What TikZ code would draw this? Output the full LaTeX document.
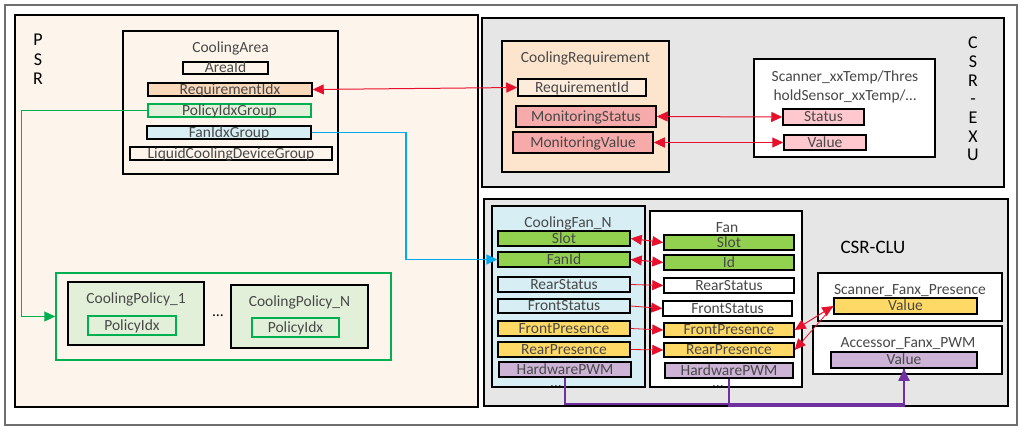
\documentclass[tikz,border=0pt]{standalone}
\usepackage{fontspec}
\setmainfont{Carlito}
\usetikzlibrary{arrows.meta}
\definecolor{cream}{RGB}{253,245,236}
\definecolor{panelgray}{RGB}{230,230,230}
\definecolor{framegray}{RGB}{110,110,110}
\definecolor{peach}{RGB}{252,228,205}
\definecolor{peachdark}{RGB}{250,216,186}
\definecolor{peachlight}{RGB}{253,236,220}
\definecolor{pinkdark}{RGB}{247,170,170}
\definecolor{pinklight}{RGB}{255,199,206}
\definecolor{fieldgreen}{RGB}{146,208,80}
\definecolor{linegreen}{RGB}{0,176,80}
\definecolor{lightgreen}{RGB}{226,240,217}
\definecolor{lightblue}{RGB}{214,238,244}
\definecolor{fieldyellow}{RGB}{255,217,102}
\definecolor{lavender}{RGB}{205,180,215}
\definecolor{linepurple}{RGB}{112,48,160}
\definecolor{arrred}{RGB}{232,17,45}
\definecolor{lineblue}{RGB}{0,170,235}
\definecolor{txtgray}{RGB}{72,72,72}
\newcommand\fldfont{\fontsize{15.5}{18}\selectfont}
\newcommand\bigletters{\fontsize{18}{20}\selectfont}
\begin{document}
\begin{tikzpicture}[x=1pt,y=-1pt,
  fld/.style={draw=black,line width=1.5pt,inner sep=0pt,text height=10pt,text depth=0pt,text=txtgray,font=\fldfont},
  ttl/.style={inner sep=0pt,text height=10pt,text depth=0pt,text=txtgray,font=\fldfont},
  cont/.style={draw=black,line width=2pt,inner sep=0pt},
  bigl/.style={inner sep=0pt,text height=11.6pt,text depth=0pt,text=black,font=\bigletters},
  dotsl/.style={inner sep=0pt,anchor=base,text=black,font=\fldfont},
  redboth/.style={draw=arrred,line width=1pt,{Triangle[length=11pt,width=10pt]}-{Triangle[length=11pt,width=10pt]}},
  redone/.style={draw=arrred,line width=0.8pt,-{Triangle[length=11pt,width=10pt]}},
]
\useasboundingbox (0,0) rectangle (1023,430);
% panels
\path[draw=framegray,line width=1.2pt,fill=white] (5,5) rectangle (1017,425);
\path[draw=black,line width=1.5pt,fill=cream] (15,15) rectangle (478,407);
\path[draw=black,line width=1.5pt,fill=panelgray] (482,18) rectangle (1004,187);
\path[draw=black,line width=1.5pt,fill=panelgray] (484,199) rectangle (1008,406);

% PSR letters
\foreach \ch [count=\i] in {P,S,R} \node[bigl] (psr\i) at (38,{20.5+19.5*\i}) {\ch};
% CSR-EXU letters
\foreach \ch [count=\i] in {C,S,R,-,E,X,U} \node[bigl] (exu\i) at (973,{24.3+18.7*\i}) {\ch};

% CoolingArea
\node[cont,minimum width=215pt,minimum height=143pt] (carea) at (230.5,102.5) {};
\node[ttl] (careaT) at (230.5,48) {CoolingArea};
\node[fld,minimum width=85pt,minimum height=12pt] (areaid) at (225.5,68) {AreaId};
\node[fld,fill=peachdark,minimum width=164pt,minimum height=13pt] (reqidx) at (230,89.5) {RequirementIdx};
\node[fld,draw=linegreen,fill=lightgreen,minimum width=163pt,minimum height=13pt] (polgroup) at (229.5,110.5) {PolicyIdxGroup};
\node[fld,fill=lightblue,minimum width=164pt,minimum height=13pt] (fangroup) at (229,132.5) {FanIdxGroup};
\node[fld,minimum width=202pt,minimum height=13pt] (liquid) at (231,153.5) {LiquidCoolingDeviceGroup};

% Policies
\node[draw=linegreen,line width=1.5pt,inner sep=0pt,minimum width=335pt,minimum height=87pt] (polcont) at (223.5,316.5) {};
\node[cont,fill=lightgreen,minimum width=136pt,minimum height=63pt] (cp1) at (136,313.5) {};
\node[ttl] (cp1T) at (136,299) {CoolingPolicy\_1};
\node[fld,draw=linegreen,fill=lightgreen,minimum width=88pt,minimum height=19pt] (pidx1) at (132,325.5) {PolicyIdx};
\node[dotsl] (pdots) at (218,317) {…};
\node[cont,fill=lightgreen,minimum width=137pt,minimum height=63pt] (cpn) at (299.5,316.5) {};
\node[ttl] (cpnT) at (299.5,302) {CoolingPolicy\_N};
\node[fld,draw=linegreen,fill=lightgreen,minimum width=87pt,minimum height=19pt] (pidxn) at (295.5,327.5) {PolicyIdx};

% CoolingRequirement
\node[cont,fill=peach,minimum width=167pt,minimum height=131pt] (creq) at (585.5,106.5) {};
\node[ttl] (creqT) at (585.5,58) {CoolingRequirement};
\node[fld,fill=peachlight,minimum width=128pt,minimum height=17pt] (reqid) at (582,87.5) {RequirementId};
\node[fld,fill=pinkdark,minimum width=140pt,minimum height=21pt] (monstat) at (586,116.5) {MonitoringStatus};
\node[fld,fill=pinkdark,minimum width=140pt,minimum height=21pt] (monval) at (583,142.5) {MonitoringValue};

% Sensor
\node[draw=black,line width=1.5pt,fill=white,inner sep=0pt,minimum width=181pt,minimum height=98pt] (sensor) at (844.5,108) {};
\node[ttl] (sensorT1) at (845,77) {Scanner\_xxTemp/Thres};
\node[ttl] (sensorT2) at (845,96) {holdSensor\_xxTemp/…};
\node[fld,fill=pinklight,minimum width=81pt,minimum height=16pt] (status) at (823.5,117) {Status};
\node[fld,fill=pinklight,minimum width=82pt,minimum height=15pt] (value) at (825,142.5) {Value};

% CSR-CLU
\node[bigl,text height=12.2pt,font=\fontsize{19}{22}\selectfont] (clu) at (873,247) {CSR-CLU};

% CoolingFan_N
\node[draw=black,line width=1.5pt,fill=lightblue,inner sep=0pt,minimum width=153pt,minimum height=181pt] (cfan) at (568.5,296.5) {};
\node[ttl] (cfanT) at (568,223) {CoolingFan\_N};
\node[fld,fill=fieldgreen,minimum width=132pt,minimum height=15pt] (cfSlot) at (564,238.5) {Slot};
\node[fld,fill=fieldgreen,minimum width=132pt,minimum height=15pt] (cfFanId) at (564,259.5) {FanId};
\node[fld,fill=lightblue,minimum width=132pt,minimum height=15pt] (cfRearS) at (564,284.5) {RearStatus};
\node[fld,fill=lightblue,minimum width=132pt,minimum height=14pt] (cfFrontS) at (564,306) {FrontStatus};
\node[fld,fill=fieldyellow,minimum width=132pt,minimum height=15pt] (cfFrontP) at (564,328.5) {FrontPresence};
\node[fld,fill=fieldyellow,minimum width=132pt,minimum height=15pt] (cfRearP) at (564,349.5) {RearPresence};
\node[fld,fill=lavender,minimum width=132pt,minimum height=15pt] (cfPWM) at (565,369.5) {HardwarePWM};
\node[dotsl] (cfdots) at (556,387) {…};

% Fan
\node[draw=black,line width=1.5pt,fill=white,inner sep=0pt,minimum width=152pt,minimum height=176pt] (fan) at (726,299) {};
\node[ttl] (fanT) at (727,228) {Fan};
\node[fld,fill=fieldgreen,minimum width=130pt,minimum height=15pt] (fSlot) at (729,242.5) {Slot};
\node[fld,fill=fieldgreen,minimum width=130pt,minimum height=15pt] (fId) at (729,262.5) {Id};
\node[fld,fill=white,minimum width=130pt,minimum height=15pt] (fRearS) at (729,285.5) {RearStatus};
\node[fld,fill=white,minimum width=129pt,minimum height=15pt] (fFrontS) at (727.5,308.5) {FrontStatus};
\node[fld,fill=fieldyellow,minimum width=130pt,minimum height=14pt] (fFrontP) at (729,330) {FrontPresence};
\node[fld,fill=fieldyellow,minimum width=130pt,minimum height=14pt] (fRearP) at (729,350) {RearPresence};
\node[fld,fill=lavender,minimum width=128pt,minimum height=15pt] (fPWM) at (729,370.5) {HardwarePWM};
\node[dotsl] (fdots) at (718,387) {…};

% Scanner / Accessor
\node[draw=black,line width=1.5pt,fill=white,inner sep=0pt,minimum width=184pt,minimum height=48pt] (scan) at (910,297) {};
\node[ttl] (scanT) at (910,290) {Scanner\_Fanx\_Presence};
\node[fld,fill=fieldyellow,minimum width=143pt,minimum height=16pt] (spValue) at (905.5,306) {Value};
\node[draw=black,line width=1.5pt,fill=white,inner sep=0pt,minimum width=189pt,minimum height=48pt] (acc) at (907.5,350) {};
\node[ttl] (accT) at (908,343) {Accessor\_Fanx\_PWM};
\node[fld,fill=lavender,minimum width=146pt,minimum height=16pt] (apValue) at (904,360) {Value};

% connectors
\draw[redboth] (reqidx.east) -- (reqid.west);
\draw[redboth] (monstat.east) -- (status.west);
\draw[redboth] (monval.east) -- (value.west);
\draw[linegreen,line width=1.3pt,-{Triangle[length=11pt,width=10pt]}] (polgroup.west) -- ++(-126,0) |- (polcont.west);
\draw[lineblue,line width=1.8pt,-{Triangle[length=11pt,width=10pt]}] (fangroup.east) -- ++(94,0) |- (cfFanId.west);
\draw[redboth] (cfSlot.east) -- (fSlot.west);
\draw[redboth] (cfFanId.east) -- (fId.west);
\draw[redone] (cfRearS.east) -- (fRearS.west);
\draw[redone] (cfFrontS.east) -- (fFrontS.west);
\draw[redone] (cfFrontP.east) -- (fFrontP.west);
\draw[redone] (cfRearP.east) -- (fRearP.west);
\draw[redboth] (spValue.west) -- (fFrontP.east);
\draw[redone] (spValue.west) -- (fRearP.east);
\draw[linepurple,line width=2.6pt] (fPWM.south) -- ++(0,26.5) -| (apValue.south);
\draw[linepurple,line width=1.8pt,-{Triangle[length=12pt,width=11pt]}] (cfPWM.south) -- ++(0,26.5) -| (apValue.south);
\end{tikzpicture}
\end{document}
